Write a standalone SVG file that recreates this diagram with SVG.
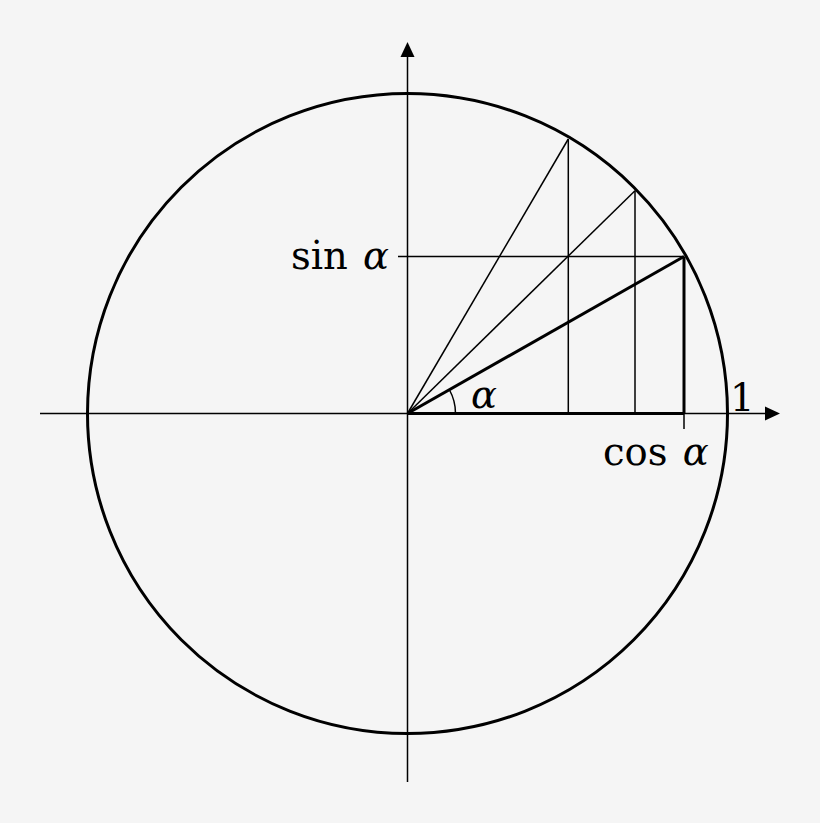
<svg xmlns="http://www.w3.org/2000/svg" width="820" height="823" viewBox="0 0 820 823">
<style>
.thin{stroke:#000;stroke-width:1.5;fill:none}
.thick{stroke:#000;stroke-width:3;fill:none}
.lbl{font-family:"DejaVu Serif",serif;font-size:38.5px;fill:#000}
.it{font-style:italic}
</style>
<rect width="820" height="823" fill="#f5f5f5"/>
<g id="circle"><circle cx="407.5" cy="413.5" r="320" class="thick"/></g>
<g id="axes">
<line x1="40" y1="413.5" x2="766" y2="413.5" class="thin"/>
<path d="M765,406.5 L780,413.5 L765,420.5 z" fill="#000"/>
<line x1="407.5" y1="782" x2="407.5" y2="57" class="thin"/>
<path d="M400.5,57 L407.5,42 L414.5,57 z" fill="#000"/>
</g>
<g id="connectors">
<line x1="407.5" y1="413.5" x2="568.3" y2="139" class="thin"/>
<line x1="568.3" y1="139" x2="568.3" y2="413.5" class="thin"/>
<line x1="407.5" y1="413.5" x2="635" y2="190.7" class="thin"/>
<line x1="635" y1="190.7" x2="635" y2="413.5" class="thin"/>
<line x1="398" y1="256.5" x2="684" y2="256.5" class="thin"/>
<line x1="684" y1="413.5" x2="684" y2="429" class="thin"/>
<line x1="407.5" y1="413.5" x2="684" y2="256.5" class="thick"/>
<line x1="684" y1="256.5" x2="684" y2="413.5" class="thick"/>
<line x1="407.5" y1="413.5" x2="684" y2="413.5" class="thick"/>
<path d="M455.5,413.5 A48,48 0 0 0 449.5,390" class="thin" stroke-width="2.5"/>
</g>
<g id="labels">
<text x="291" y="269" class="lbl">sin <tspan class="it" dx="3">α</tspan></text>
<text x="603" y="465" class="lbl">cos <tspan class="it" dx="3">α</tspan></text>
<text x="471" y="408" class="lbl it">α</text>
<text x="730" y="411" class="lbl">1</text>
</g>
</svg>
